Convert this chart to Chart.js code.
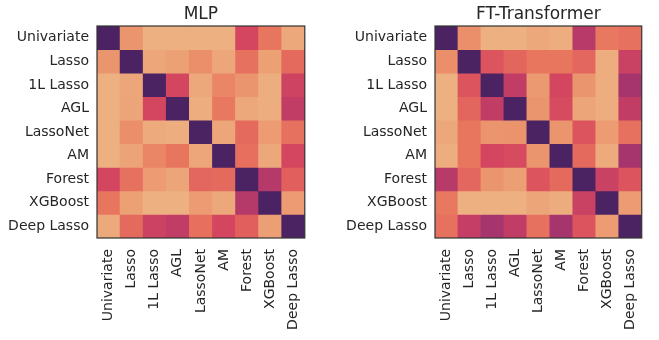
<!DOCTYPE html>
<html>
<head>
<meta charset="utf-8">
<script src="https://cdn.jsdelivr.net/npm/chart.js@4"></script>
<style>
  html, body { margin: 0; padding: 0; background: #fff; }
  #wrap { position: relative; width: 659px; height: 340px; }
  .panel { position: absolute; top: 0; height: 340px; }
</style>
</head>
<body>
<div id="wrap">
  <div class="panel" style="left:0;width:322px"><canvas id="mlpChart"></canvas></div>
  <div class="panel" style="left:330px;width:329px"><canvas id="ftChart"></canvas></div>
</div>
<script>
// ================= DATA =================
var models = ["Univariate", "Lasso", "1L Lasso", "AGL", "LassoNet", "AM", "Forest", "XGBoost", "Deep Lasso"];

var mlpMatrix = [
  [1.00, 0.18, 0.00, 0.00, 0.00, 0.00, 0.50, 0.30, 0.07],
  [0.18, 1.00, 0.09, 0.12, 0.21, 0.09, 0.32, 0.12, 0.35],
  [0.00, 0.09, 1.00, 0.50, 0.07, 0.24, 0.18, 0.02, 0.53],
  [0.00, 0.10, 0.50, 1.00, 0.03, 0.29, 0.07, 0.03, 0.58],
  [0.00, 0.21, 0.05, 0.03, 1.00, 0.09, 0.35, 0.15, 0.32],
  [0.00, 0.11, 0.24, 0.30, 0.09, 1.00, 0.33, 0.07, 0.50],
  [0.50, 0.32, 0.15, 0.10, 0.36, 0.35, 1.00, 0.63, 0.39],
  [0.30, 0.12, 0.00, 0.00, 0.15, 0.07, 0.63, 1.00, 0.15],
  [0.06, 0.35, 0.54, 0.58, 0.33, 0.50, 0.39, 0.13, 1.00]
];

var ftMatrix = [
  [1.00, 0.21, 0.00, 0.00, 0.07, 0.03, 0.62, 0.29, 0.32],
  [0.21, 1.00, 0.44, 0.37, 0.30, 0.30, 0.36, 0.03, 0.55],
  [0.00, 0.44, 1.00, 0.58, 0.16, 0.50, 0.18, 0.03, 0.68],
  [0.00, 0.37, 0.58, 1.00, 0.18, 0.48, 0.10, 0.03, 0.58],
  [0.07, 0.30, 0.18, 0.19, 1.00, 0.18, 0.44, 0.15, 0.32],
  [0.03, 0.30, 0.50, 0.48, 0.18, 1.00, 0.35, 0.05, 0.68],
  [0.62, 0.36, 0.18, 0.13, 0.44, 0.35, 1.00, 0.55, 0.44],
  [0.29, 0.00, 0.00, 0.00, 0.10, 0.04, 0.55, 1.00, 0.15],
  [0.32, 0.57, 0.68, 0.58, 0.32, 0.68, 0.44, 0.15, 1.00]
];

// ================= COLOUR MAP (flare-like) =================
var cmapStops = [
  [0.00, "#edb081"],
  [0.10, "#eca578"],
  [0.20, "#eb916b"],
  [0.30, "#e8765f"],
  [0.40, "#e05d5d"],
  [0.50, "#d4465f"],
  [0.60, "#bd3b67"],
  [0.70, "#a2346f"],
  [0.85, "#75296e"],
  [1.00, "#4b2362"]
];

function hexToRgb(h) {
  return [parseInt(h.substr(1, 2), 16), parseInt(h.substr(3, 2), 16), parseInt(h.substr(5, 2), 16)];
}

function valueToColor(v) {
  for (var i = 1; i < cmapStops.length; i++) {
    if (v <= cmapStops[i][0]) {
      var a = cmapStops[i - 1], b = cmapStops[i];
      var t = (v - a[0]) / (b[0] - a[0]);
      var ca = hexToRgb(a[1]), cb = hexToRgb(b[1]);
      var c = ca.map(function (x, k) { return Math.round(x + (cb[k] - x) * t); });
      return "rgb(" + c.join(",") + ")";
    }
  }
  return cmapStops[cmapStops.length - 1][1];
}

// ================= FRAME =================
var framePlugin = {
  id: "frame",
  afterDraw: function (chart) {
    var a = chart.chartArea, ctx = chart.ctx;
    ctx.save();
    ctx.strokeStyle = "#333333";
    ctx.lineWidth = 1.2;
    ctx.strokeRect(a.left, a.top, a.right - a.left, a.bottom - a.top);
    ctx.restore();
  }
};

Chart.defaults.font.family = "'DejaVu Sans', sans-serif";
Chart.defaults.color = "#262626";

// ================= HEATMAP =================
function makeHeatmap(canvasId, title, matrix, axisWidth) {
  // one dataset per row, stacked top to bottom; each bar is one cell
  var datasets = matrix.map(function (row, i) {
    return {
      label: models[i],
      data: models.map(function () { return 1; }),
      backgroundColor: row.map(valueToColor),
      borderWidth: 0,
      barPercentage: 1,
      categoryPercentage: 1
    };
  });

  return new Chart(document.getElementById(canvasId), {
    type: "bar",
    data: { labels: models, datasets: datasets },
    options: {
      responsive: true,
      maintainAspectRatio: false,
      animation: false,
      layout: { padding: { left: 0, right: 12, top: 0, bottom: 0 } },
      plugins: {
        legend: { display: false },
        tooltip: { enabled: false },
        title: {
          display: true,
          text: title,
          fullSize: false,
          font: { size: 17, weight: "normal" },
          padding: { top: 4, bottom: 1.6 }
        }
      },
      scales: {
        x: {
          type: "category",
          stacked: true,
          offset: true,
          grid: { display: false, drawTicks: false },
          border: { display: false },
          ticks: { autoSkip: false, minRotation: 90, maxRotation: 90, padding: 11, font: { size: 14 } },
          afterFit: function (scale) { scale.height = 102; }
        },
        y: {
          type: "linear",
          stacked: true,
          reverse: true,
          min: 0,
          max: models.length,
          grid: { display: false, drawTicks: false },
          border: { display: false },
          afterBuildTicks: function (scale) {
            scale.ticks = models.map(function (_, i) { return { value: i + 0.5 }; });
          },
          ticks: {
            padding: 8,
            font: { size: 14 },
            callback: function (value, index) { return models[index]; }
          },
          afterFit: function (scale) { scale.width = axisWidth; }
        }
      }
    },
    plugins: [framePlugin]
  });
}

makeHeatmap("mlpChart", "MLP", mlpMatrix, 97);
makeHeatmap("ftChart", "FT-Transformer", ftMatrix, 105);
</script>
</body>
</html>
